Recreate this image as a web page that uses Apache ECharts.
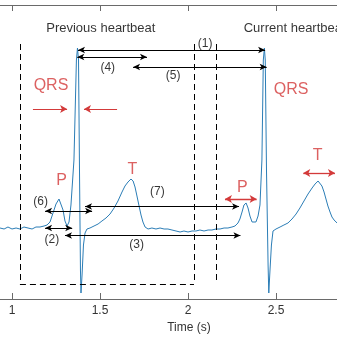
<!DOCTYPE html>
<html><head><meta charset="utf-8">
<script src="https://cdn.jsdelivr.net/npm/echarts@6/dist/echarts.min.js"></script>
<style>html,body{margin:0;padding:0;background:#fff}#c{width:337px;height:337px}</style>
</head><body><div id="c"></div>
<script>
// ECG trace: time (s) and amplitude (arbitrary units)
const time = [0.932,0.955,0.977,1.000,1.023,1.045,1.068,1.091,1.114,1.136,1.159,1.182,1.199,1.216,1.233,1.250,1.267,1.278,1.290,1.301,1.313,1.324,1.335,1.352,1.366,1.372,1.378,1.384,1.389,1.392,1.398,1.406,1.415,1.426,1.443,1.466,1.489,1.511,1.534,1.557,1.580,1.602,1.625,1.642,1.659,1.676,1.688,1.699,1.710,1.722,1.733,1.744,1.756,1.773,1.795,1.818,1.841,1.864,1.886,1.909,1.932,1.955,1.977,2.000,2.023,2.045,2.068,2.091,2.114,2.136,2.159,2.182,2.205,2.227,2.250,2.267,2.284,2.295,2.307,2.318,2.330,2.341,2.352,2.364,2.375,2.386,2.398,2.409,2.420,2.428,2.434,2.439,2.446,2.455,2.459,2.466,2.474,2.483,2.500,2.523,2.545,2.568,2.591,2.614,2.636,2.659,2.682,2.705,2.722,2.739,2.750,2.761,2.773,2.784,2.795,2.807,2.818,2.830,2.847];
const ecg = [0,-0.01,0.01,-0.01,0,-0.01,0.01,0,-0.01,0.01,0.01,0.02,0.03,0.06,0.15,0.24,0.29,0.27,0.18,0.07,0.02,0.06,0.23,0.68,1.68,1.80,1.68,0.48,-0.42,-0.65,-0.47,-0.17,-0.05,-0.01,0,0.02,0.04,0.07,0.10,0.14,0.20,0.27,0.36,0.42,0.46,0.49,0.47,0.41,0.32,0.22,0.13,0.06,0.01,-0.01,0,-0.01,0,-0.01,-0.01,-0.02,-0.03,-0.04,-0.03,-0.04,-0.03,-0.03,-0.02,-0.03,-0.02,-0.02,-0.01,-0.01,0,0,0.01,0.02,0.05,0.09,0.16,0.23,0.25,0.20,0.12,0.06,0.04,0.06,0.12,0.23,0.68,1.68,1.80,1.68,0.58,-0.37,-0.65,-0.42,-0.17,-0.03,-0.01,0.01,0.03,0.05,0.09,0.14,0.20,0.27,0.34,0.40,0.44,0.47,0.46,0.42,0.36,0.29,0.22,0.16,0.11,0.08,0.05];

const xRange = [0.9318, 2.8466];
const yRange = [-0.71, 2.23];
const tickValues = [1, 1.5, 2, 2.5];
const tickLabels = ['1', '1.5', '2', '2.5'];
const xTitle = 'Time (s)';

// annotation anchors in data units: [text, time, amplitude]
const headingLabels = [['Previous heartbeat', 1.5045, 1.995], ['Current heartbeat', 2.606, 1.995]];
const intervalLabels = [['(1)', 2.097, 1.845], ['(4)', 1.544, 1.605], ['(5)', 1.915, 1.52], ['(7)', 1.826, 0.36], ['(6)', 1.163, 0.26], ['(2)', 1.227, -0.115], ['(3)', 1.708, -0.17]];
const waveLabels = [['QRS', 1.2216, 1.42], ['QRS', 2.586, 1.38], ['P', 1.282, 0.475], ['T', 1.684, 0.58], ['P', 2.309, 0.40], ['T', 2.737, 0.72]];

// interval arrows: [startTime, endTime, amplitude] (double-headed)
const intervalArrows = [[1.375, 2.438, 1.78], [1.371, 1.767, 1.71], [1.688, 2.447, 1.61], [1.415, 2.290, 0.215], [1.188, 1.455, 0.17], [1.188, 1.342, 0.00], [1.301, 2.298, -0.075]];
// red single-headed arrows: [fromTime, toTime, amplitude]
const qrsArrows = [[1.119, 1.313, 1.19], [1.597, 1.409, 1.19]];
// red double-headed arrows: [startTime, endTime, amplitude]
const waveArrows = [[2.210, 2.390, 0.29], [2.655, 2.835, 0.55]];
// dashed window outlines: [t1, v1, t2, v2]
const windowLines = [[1.045, 1.84, 2.9, 1.84], [1.045, 1.84, 1.045, -0.56], [1.045, -0.56, 2.034, -0.56], [2.034, 1.84, 2.034, -0.56], [2.159, 1.84, 2.159, -0.56]];

const RED = '#d33a3a';
const AX = '#6a6a6a';
const FONT = '"Liberation Sans", Arial, Helvetica, sans-serif';

const chart = echarts.init(document.getElementById('c'), null, { renderer: 'canvas' });

function textSeries(list, style) {
  return {
    type: 'scatter', symbolSize: 0, z: 10, silent: true, clip: false,
    data: list.map(d => ({ name: d[0], value: [d[1], d[2]] })),
    label: Object.assign({ show: true, position: 'inside', formatter: p => p.name, fontFamily: FONT, align: 'center', verticalAlign: 'middle' }, style)
  };
}

const option = {
  animation: false,
  backgroundColor: '#fff',
  grid: { left: 0, right: 0, top: 5, bottom: 38, containLabel: false, outerBoundsMode: 'none' },
  xAxis: [{
    type: 'value', position: 'bottom', min: xRange[0], max: xRange[1],
    axisLine: { show: true, onZero: false, lineStyle: { color: AX, width: 1 } },
    axisTick: { show: true, inside: true, length: 6, customValues: tickValues, lineStyle: { color: AX } },
    axisLabel: { show: true, customValues: tickValues, margin: 6, color: '#333', fontSize: 12, fontFamily: FONT,
      formatter: v => { const i = tickValues.indexOf(v); return i >= 0 ? tickLabels[i] : ''; } },
    splitLine: { show: false },
    name: xTitle, nameLocation: 'middle', nameGap: 22,
    nameTextStyle: { color: '#333', fontSize: 12, fontFamily: FONT, padding: [0, 0, 0, 41] }
  }, {
    type: 'value', position: 'top', min: xRange[0], max: xRange[1],
    axisLine: { show: true, onZero: false, lineStyle: { color: AX, width: 1 } },
    axisTick: { show: true, inside: true, length: 6, customValues: tickValues, lineStyle: { color: AX } },
    axisLabel: { show: false }, splitLine: { show: false }
  }],
  yAxis: { type: 'value', min: yRange[0], max: yRange[1], show: false, splitLine: { show: false } },
  series: [
    {
      type: 'line', z: 3, showSymbol: false, symbol: 'none', clip: true, silent: true,
      data: time.map((t, i) => [t, ecg[i]]),
      lineStyle: { color: '#2b7db6', width: 1 }
    },
    {
      type: 'line', data: [], z: 2, silent: true,
      markLine: {
        silent: true, animation: false, symbol: ['none', 'none'], label: { show: false },
        lineStyle: { color: '#000', width: 1, type: [6, 4] },
        emphasis: { disabled: true },
        data: windowLines.map(d => [{ coord: [d[0], d[1]] }, { coord: [d[2], d[3]] }])
      }
    },
    {
      type: 'line', data: [], z: 4, silent: true,
      markLine: {
        silent: true, animation: false, symbol: ['arrow', 'arrow'], symbolSize: [5, 7], label: { show: false },
        lineStyle: { color: '#000', width: 1, type: 'solid' },
        emphasis: { disabled: true },
        data: intervalArrows.map(d => [{ coord: [d[0], d[2]] }, { coord: [d[1], d[2]] }])
      }
    },
    {
      type: 'line', data: [], z: 4, silent: true,
      markLine: {
        silent: true, animation: false, symbol: ['none', 'arrow'], symbolSize: [6, 7], label: { show: false },
        lineStyle: { color: RED, width: 1, type: 'solid' },
        emphasis: { disabled: true },
        data: qrsArrows.map(d => [{ coord: [d[0], d[2]] }, { coord: [d[1], d[2]] }])
      }
    },
    {
      type: 'line', data: [], z: 4, silent: true,
      markLine: {
        silent: true, animation: false, symbol: ['arrow', 'arrow'], symbolSize: [6, 7], label: { show: false },
        lineStyle: { color: RED, width: 1.3, type: 'solid' },
        emphasis: { disabled: true },
        data: waveArrows.map(d => [{ coord: [d[0], d[2]] }, { coord: [d[1], d[2]] }])
      }
    },
    textSeries(headingLabels, { color: '#000', fontSize: 13 }),
    textSeries(intervalLabels, { color: '#000', fontSize: 12, backgroundColor: '#fff', padding: [0, 1] }),
    textSeries(waveLabels, { color: RED, fontSize: 16 })
  ]
};
chart.setOption(option);
</script>
</body></html>
